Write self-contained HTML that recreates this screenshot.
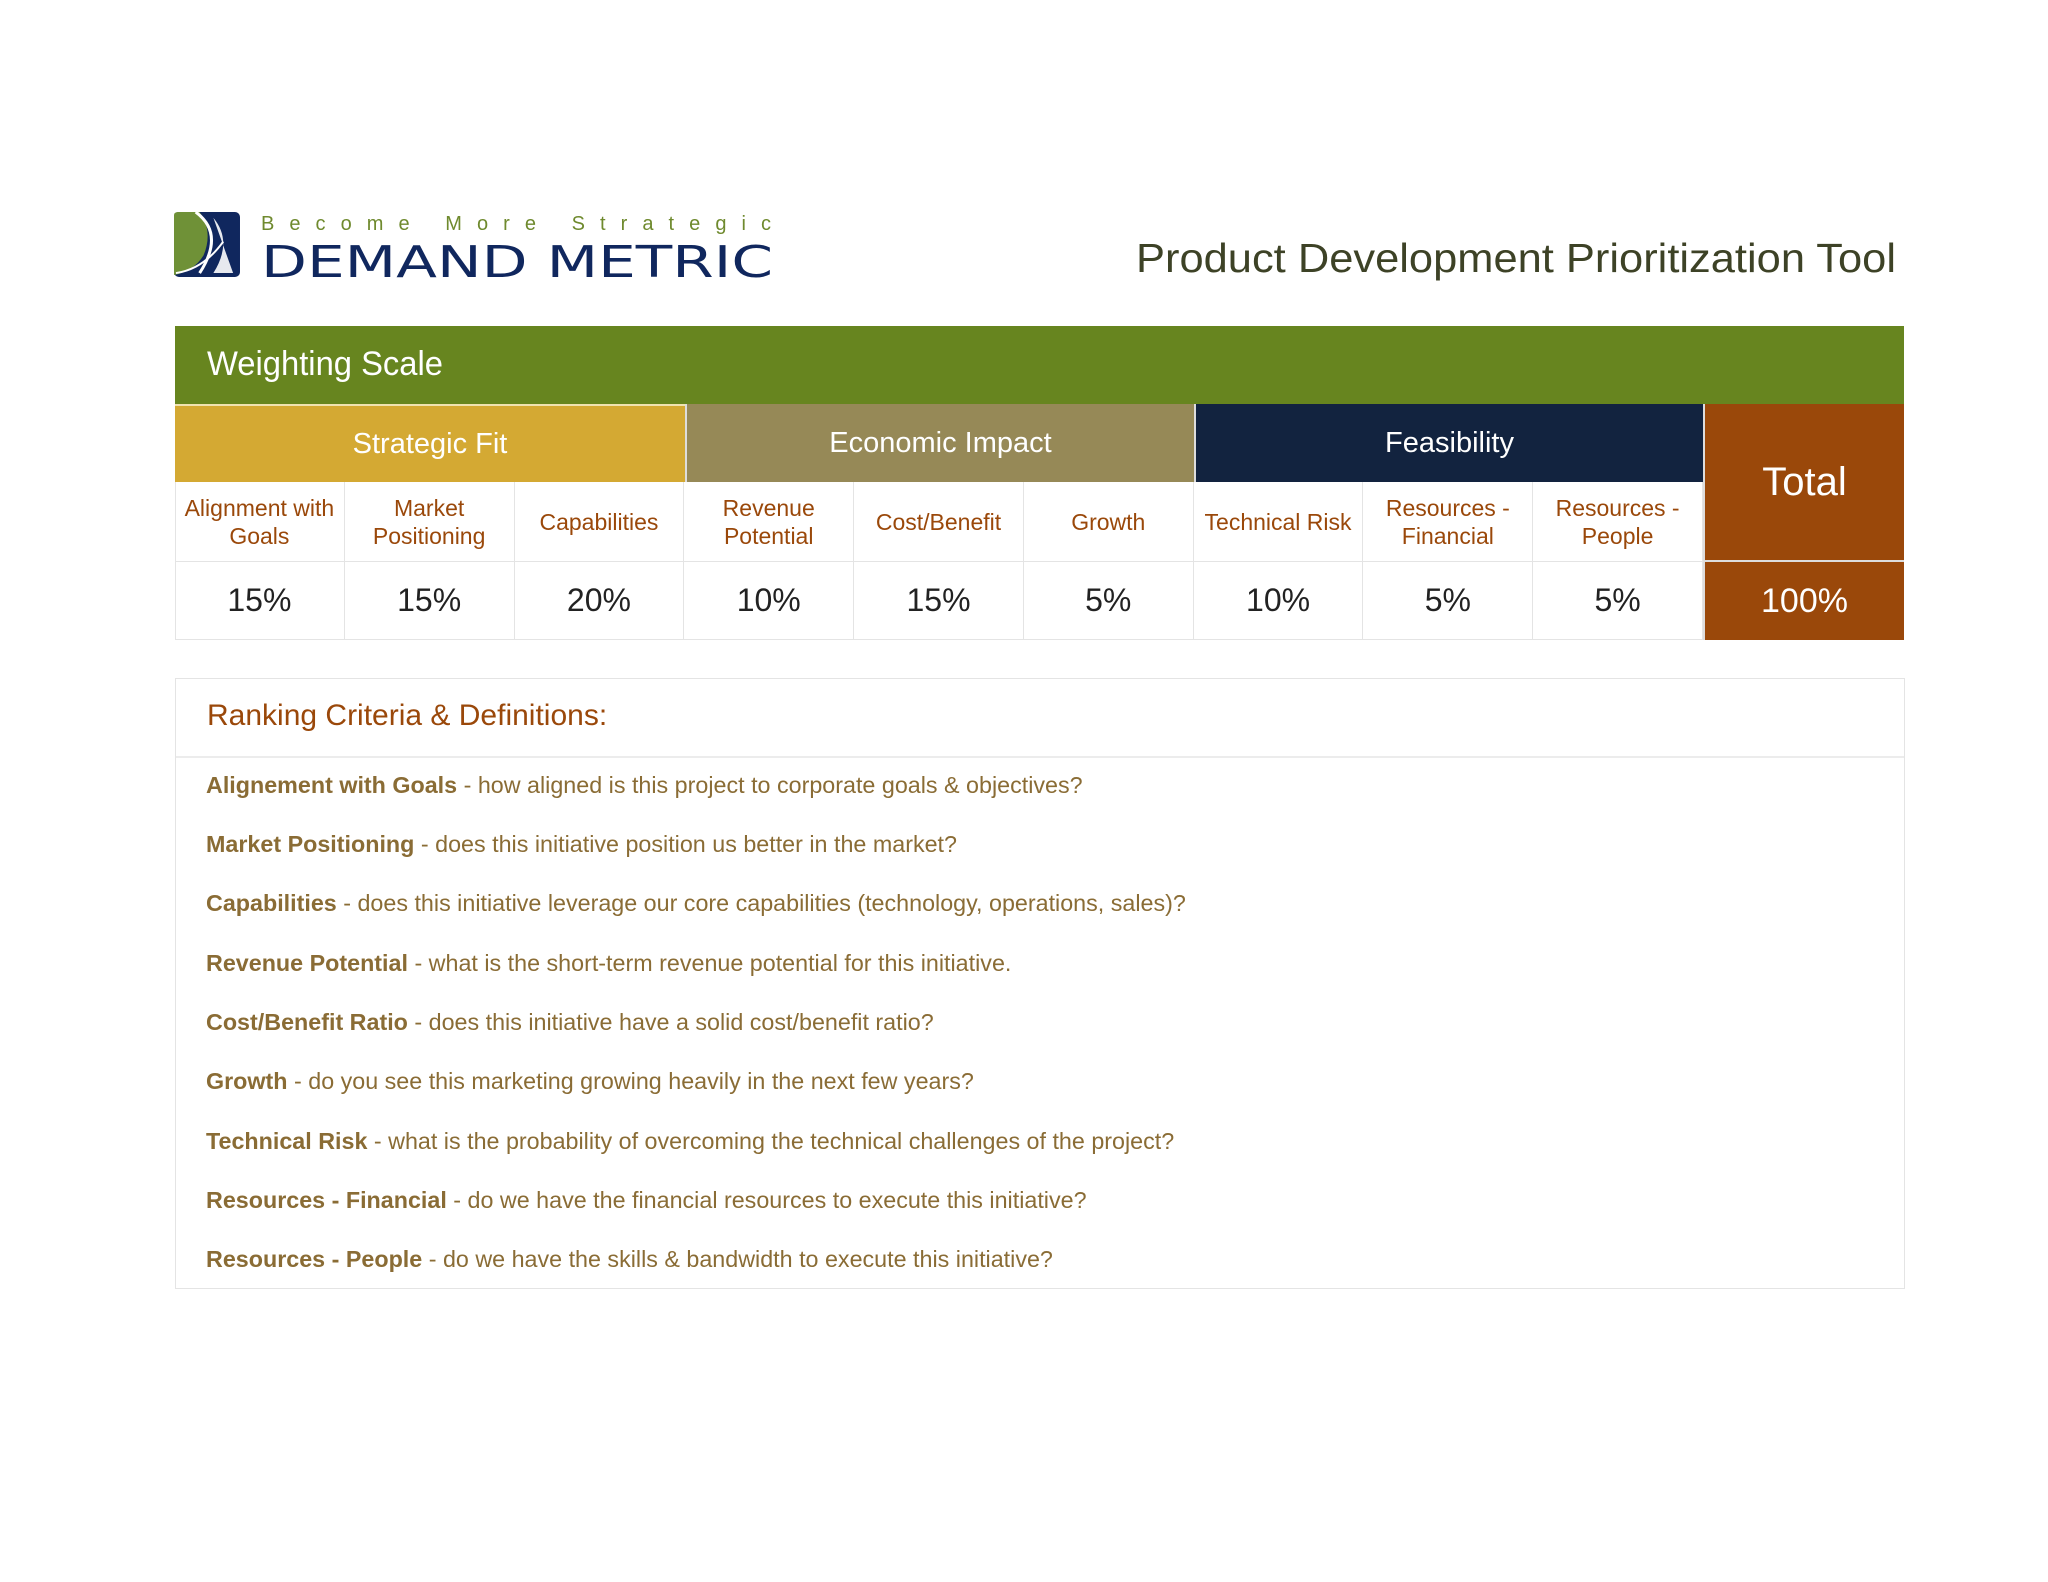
<!DOCTYPE html>
<html><head><meta charset="utf-8"><style>
body{margin:0;width:2048px;height:1582px;background:#fff;position:relative;font-family:"Liberation Sans",Arial,sans-serif;overflow:hidden}
.a{position:absolute;box-sizing:border-box}
.c{display:flex;align-items:center;justify-content:center;text-align:center}
.lab{color:#9a480a;font-size:23px;line-height:28px;border-right:1px solid #e4e4e4;border-bottom:1px solid #e4e4e4}
.val{color:#222;font-size:32px;border-right:1px solid #e4e4e4;border-bottom:1px solid #e4e4e4}
.def{left:206px;font-size:23.3px;color:#8a6c35;white-space:nowrap;line-height:28px}
.def b{font-weight:bold}
</style></head><body>
<svg class="a" style="left:174px;top:212px" width="66" height="65" viewBox="0 0 67 66">
<rect x="0" y="0" width="67" height="66" rx="5" fill="#10275e"/>
<path d="M0 3 Q0 0 5 0 L26 0 Q40 20 30 44 Q20 60 0 64 Z" fill="#6f9137"/>
<path d="M22 0 Q52 22 26 62" stroke="#fff" stroke-width="3" fill="none"/>
<path d="M40 6 Q60 30 40 62 L60 62 Z" fill="#fff" opacity="0.9"/>
<path d="M2 62 Q30 58 50 30" stroke="#fff" stroke-width="2" fill="none"/>
</svg>
<svg class="a" style="left:259px;top:208px" width="530" height="75">
<text x="2" y="22" font-family="Liberation Sans" font-size="20" fill="#6f8a2e" textLength="510" lengthAdjust="spacing">Become More Strategic</text>
<text x="2" y="69" font-family="DejaVu Sans" font-size="44" fill="#10275e" textLength="512" lengthAdjust="spacingAndGlyphs">DEMAND METRIC</text>
</svg>
<svg class="a" style="left:1080px;top:222px" width="820" height="70">
<text x="816" y="50" text-anchor="end" font-family="Liberation Sans" font-size="41" fill="#3d4226" textLength="760" lengthAdjust="spacingAndGlyphs">Product Development Prioritization Tool</text>
</svg>

<div class="a" style="left:175px;top:326px;width:1729px;height:78px;background:#67851f"></div>
<svg class="a" style="left:207px;top:335px" width="300" height="60"><text x="0" y="40" font-family="Liberation Sans" font-size="34" fill="#fff" textLength="236" lengthAdjust="spacingAndGlyphs">Weighting Scale</text></svg>

<div class="a c" style="left:175px;top:404px;width:510px;height:78px;background:#d4a933;color:#fff;font-size:29px;border-top:2px solid #f0e3b0">Strategic Fit</div>
<div class="a c" style="left:685px;top:404px;width:509px;height:78px;background:#968957;color:#fff;font-size:29px;border-left:2px solid #ddd">Economic Impact</div>
<div class="a c" style="left:1194px;top:404px;width:509px;height:78px;background:#12233f;color:#fff;font-size:29px;border-left:2px solid #ddd">Feasibility</div>
<div class="a c" style="left:1703px;top:404px;width:201px;height:158px;background:#9a480a;color:#fff;font-size:40px;border-left:2px solid #ddd;border-bottom:2px solid #ddd">Total</div>
<div class="a c" style="left:1703px;top:562px;width:201px;height:78px;background:#9a480a;color:#fff;font-size:34px;border-left:2px solid #ddd">100%</div>
<div class="a" style="left:175px;top:482px;width:1px;height:158px;background:#e4e4e4"></div>

<div id="cells"></div>

<div class="a" style="left:175px;top:678px;width:1730px;height:611px;border:1px solid #e4e4e4"></div>
<div class="a" style="left:207px;top:699px;font-size:30px;color:#9a480a">Ranking Criteria &amp; Definitions:</div>
<div class="a" style="left:176px;top:756px;width:1728px;height:2px;background:#ececec"></div>

<div class="a def" style="top:771px"><b>Alignement with Goals</b> - how aligned is this project to corporate goals &amp; objectives?</div>
<div class="a def" style="top:830px"><b>Market Positioning</b> - does this initiative position us better in the market?</div>
<div class="a def" style="top:889px"><b>Capabilities</b> - does this initiative leverage our core capabilities (technology, operations, sales)?</div>
<div class="a def" style="top:949px"><b>Revenue Potential</b> - what is the short-term revenue potential for this initiative.</div>
<div class="a def" style="top:1008px"><b>Cost/Benefit Ratio</b> - does this initiative have a solid cost/benefit ratio?</div>
<div class="a def" style="top:1067px"><b>Growth</b> - do you see this marketing growing heavily in the next few years?</div>
<div class="a def" style="top:1127px"><b>Technical Risk</b> - what is the probability of overcoming the technical challenges of the project?</div>
<div class="a def" style="top:1186px"><b>Resources - Financial</b> - do we have the financial resources to execute this initiative?</div>
<div class="a def" style="top:1245px"><b>Resources - People</b> - do we have the skills &amp; bandwidth to execute this initiative?</div>

<script>
const criteria=["Alignment with<br>Goals","Market<br>Positioning","Capabilities","Revenue<br>Potential","Cost/Benefit","Growth","Technical Risk","Resources -<br>Financial","Resources -<br>People"];
const weights=["15%","15%","20%","10%","15%","5%","10%","5%","5%"];
const host=document.getElementById('cells');
const x0=175,w=(1703-175)/9;
criteria.forEach((t,i)=>{
  const l=document.createElement('div');
  l.className='a c lab';
  l.style.cssText=`left:${x0+i*w}px;top:482px;width:${w}px;height:80px`;
  l.innerHTML=t;
  
  
  host.appendChild(l);
  const v=document.createElement('div');
  v.className='a c val';
  v.style.cssText=`left:${x0+i*w}px;top:562px;width:${w}px;height:78px`;
  v.textContent=weights[i];
  
  
  host.appendChild(v);
});
</script>
</body></html>
